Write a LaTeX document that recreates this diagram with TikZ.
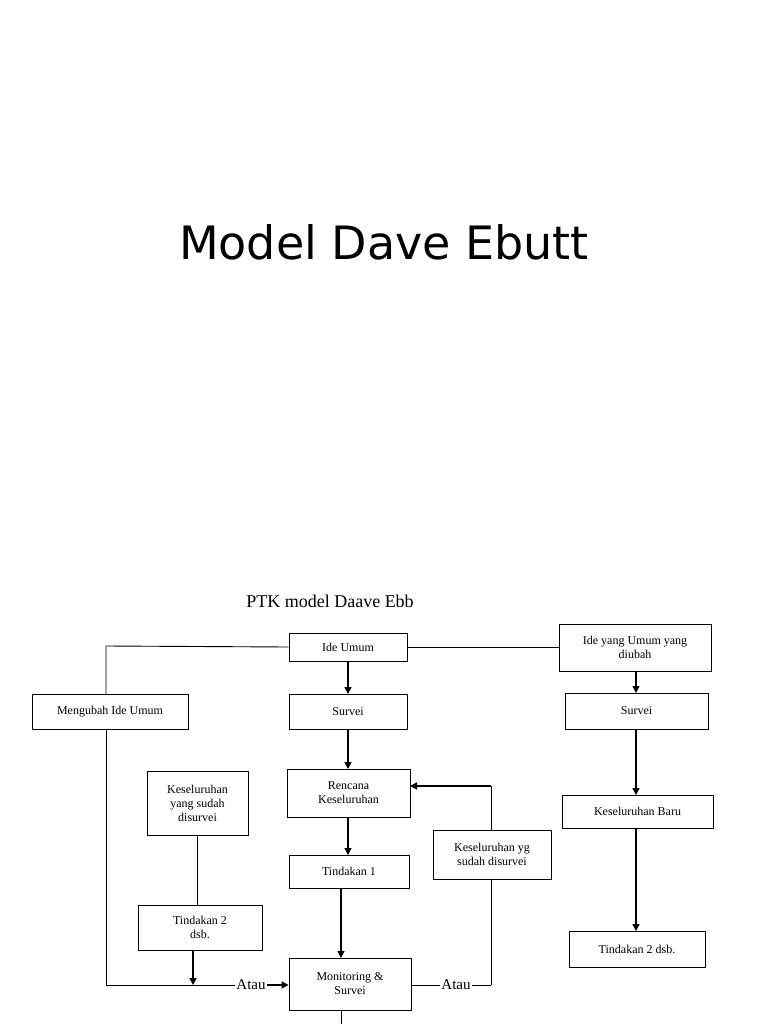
\documentclass[tikz,border=0pt]{standalone}
\usepackage{fontspec}
\setmainfont{Liberation Serif}
\newfontfamily\titlefont{DejaVu Sans}
\usetikzlibrary{arrows.meta}
\begin{document}
\begin{tikzpicture}[x=1pt,y=-1pt,
  bx/.style={draw,fill=white,line width=0.8pt,align=center,font=\fontsize{12}{14}\selectfont,inner sep=2pt},
  ln/.style={line width=0.9pt},
  ar/.style={line width=1.4pt,-{Triangle[length=7pt,width=7pt]}}]
\useasboundingbox (0,0) rectangle (768,1024);
\node[font=\titlefont\fontsize{46}{52}\selectfont] (title) at (384,242) {Model Dave Ebutt};
\node[font=\fontsize{18}{22}\selectfont] (sub) at (330,601) {PTK model Daave Ebb};
\newcommand{\bxat}[6]{\node[bx,minimum width=#3-#2,minimum height=#5-#4] (#1) at ({(#2+#3)/2},{(#4+#5)/2}) {#6};}
\draw[ln] (491,985) -- (491,786);
\bxat{ide}{289}{407}{633}{661}{Ide Umum}
\bxat{ided}{559}{711}{624}{671}{Ide yang Umum yang\\diubah}
\bxat{meng}{32}{188}{694}{729}{Mengubah Ide Umum}
\bxat{sv1}{289}{407}{694}{729}{Survei}
\bxat{sv2}{565}{708}{693}{729}{Survei}
\bxat{ren}{287}{410}{769}{817}{Rencana\\Keseluruhan}
\bxat{kl}{147}{248}{771}{835}{Keseluruhan\\yang sudah\\disurvei}
\bxat{kb}{562}{713}{795}{828}{Keseluruhan Baru}
\bxat{t1}{289}{409}{855}{888}{Tindakan 1}
\bxat{kr}{433}{551}{830}{879}{Keseluruhan yg\\sudah disurvei}
\bxat{t2l}{138}{262}{905}{950}{Tindakan 2\\dsb.}
\bxat{t2r}{569}{705}{931}{967}{Tindakan 2 dsb.}
\bxat{mon}{289}{411}{958}{1010}{Monitoring \&\\Survei}
\node[font=\fontsize{15}{17}\selectfont,inner sep=1pt] (a1) at (251,985) {Atau};
\node[font=\fontsize{15}{17}\selectfont,inner sep=1pt] (a2) at (456,985) {Atau};
\coordinate (bot) at (341,1024);
\coordinate (c1) at (106,646);
\coordinate (c2) at (106,985);
\draw[ln] (ide.west) -- (c1) -- (106,694);
\draw[ln] (ide.east) -- (ided.west|-ide.east);
\draw[ln] (106,729) -- (c2) -- (a1.west);
\draw[ar] (a1.east) -- (mon.west|-a1.east);
\draw[ln] (mon.east|-a2) -- (a2.west);
\draw[ln] (a2.east) -- (491,985);
\draw[ar] (491,786) -- (410,786);
\draw[ar] (348,661) -- (348,694);
\draw[ar] (348,729) -- (348,769);
\draw[ar] (348,817) -- (348,855);
\draw[ar] (341,888) -- (341,958);
\draw[ln] (341,1010) -- (bot);
\draw[ar] (636,671) -- (636,693);
\draw[ar] (636,729) -- (636,795);
\draw[ar] (636,828) -- (636,931);
\draw[ln] (197,835) -- (197,905);
\draw[ar] (193,950) -- (193,985);
\end{tikzpicture}
\end{document}
